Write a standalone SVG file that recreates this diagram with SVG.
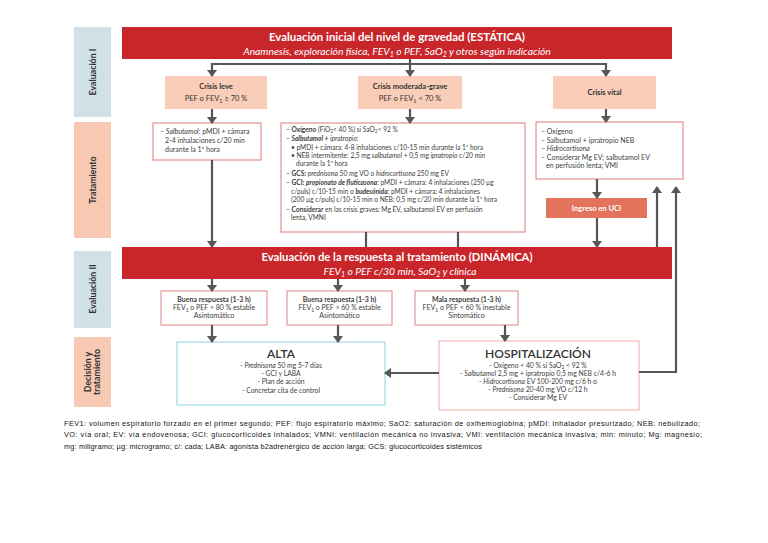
<svg xmlns="http://www.w3.org/2000/svg" width="768" height="543" viewBox="0 0 768 543">
<defs>
<marker id="ah" viewBox="0 0 7 10" refX="6" refY="5" markerWidth="7" markerHeight="10" markerUnits="userSpaceOnUse" orient="auto"><path d="M0,0 L7,5 L0,10 z" fill="#575757"/></marker>
<style>
text{font-family:Lato,"Open Sans","Liberation Sans",sans-serif;fill:#3d3d3d}
.lab rect{stroke:none}
.blue{fill:#d0e1e8}
.salm{fill:#f8c9b2}
.lt{font-size:8.8px;font-weight:bold;fill:#333;text-anchor:middle}
.red{fill:#c9262c}
.ttl{font-size:11.5px;font-weight:bold;fill:#fff;text-anchor:middle}
.sub{font-size:10.3px;font-style:italic;fill:#fff;text-anchor:middle}
.cr{fill:#f9cdb7}
.ct{font-size:7.5px;text-anchor:middle;fill:#333}
.b{font-weight:bold}
.i{font-style:italic}
.bi{font-weight:bold;font-style:italic}
.tb{fill:#fff;stroke:#e07b7b;stroke-width:1}
.t7{font-size:7px}
.t6{font-size:6.6px}
.rb{fill:#fff;stroke:#e08585;stroke-width:1}
.rt{font-size:7px;text-anchor:middle}
.uci{fill:#e3735a}
.alta{fill:#fff;stroke:#8fd0e0;stroke-width:1}
.hosp{fill:#fff;stroke:#f0aaaa;stroke-width:1}
.big{font-size:12px;font-weight:600;text-anchor:middle;fill:#333}
.dt{font-size:6.8px;text-anchor:middle}
.fn{font-family:"Liberation Sans",Arial,sans-serif;font-size:7.3px;fill:#111}
.con{fill:none;stroke:#575757;stroke-width:2.2}
</style>
</defs>
<rect width="768" height="543" fill="#fff"/>

<!-- side labels -->
<g id="lab-eval1" class="lab"><rect class="blue" x="74" y="27" width="37" height="90"/><text class="lt" transform="translate(92.5,72) rotate(-90)" dy="3">Evaluación I</text></g>
<g id="lab-trat" class="lab"><rect class="salm" x="74" y="122" width="37" height="116"/><text class="lt" transform="translate(92.5,180) rotate(-90)" dy="3">Tratamiento</text></g>
<g id="lab-eval2" class="lab"><rect class="blue" x="74" y="251" width="37" height="77"/><text class="lt" transform="translate(92.5,289) rotate(-90)" dy="3">Evaluación II</text></g>
<g id="lab-dec" class="lab"><rect class="salm" x="74" y="337" width="37" height="70"/><text class="lt" transform="translate(92.5,372) rotate(-90)"><tspan x="0" y="-1.5">Decisión y</tspan><tspan x="0" y="7.5">tratamiento</tspan></text></g>

<!-- header 1 -->
<g id="eval-inicial"><rect class="red" x="122" y="27" width="550" height="32"/>
<text class="ttl" x="397" y="41" textLength="256" lengthAdjust="spacingAndGlyphs">Evaluación inicial del nivel de gravedad (ESTÁTICA)</text>
<text class="sub" x="397" y="54.5">Anamnesis, exploración física, FEV<tspan font-size="7" dy="2">1</tspan><tspan dy="-2"> o PEF, SaO</tspan><tspan font-size="7" dy="2">2</tspan><tspan dy="-2"> y otros según indicación</tspan></text></g>

<!-- crisis -->
<g id="crisis-leve"><rect class="cr" x="165" y="76" width="102" height="33"/><text class="ct b" x="216" y="89">Crisis leve</text><text class="ct" x="216" y="101">PEF o FEV<tspan font-size="5.5" dy="1.5">1</tspan><tspan dy="-1.5"> ≥ 70 %</tspan></text></g>
<g id="crisis-mod"><rect class="cr" x="358" y="76" width="104" height="33"/><text class="ct b" x="410" y="89">Crisis moderada-grave</text><text class="ct" x="410" y="101">PEF o FEV<tspan font-size="5.5" dy="1.5">1</tspan><tspan dy="-1.5"> &lt; 70 %</tspan></text></g>
<g id="crisis-vital"><rect class="cr" x="553" y="76" width="103" height="33"/><text class="ct b" x="604.5" y="95">Crisis vital</text></g>

<!-- treatments -->
<g id="trat-leve"><rect class="tb" x="153" y="123" width="108" height="37"/>
<text class="t7" x="160" y="134">– <tspan class="i">Salbutamol</tspan>: pMDI + cámara</text>
<text class="t7" x="165" y="143">2-4 inhalaciones c/20 min</text>
<text class="t7" x="165" y="151.5">durante la 1ª hora</text></g>

<g id="trat-mod"><rect class="tb" x="281" y="123" width="244" height="109"/>
<text class="t6" x="286" y="131.5">– <tspan class="b">Oxígeno</tspan> (FiO<tspan font-size="4.8" dy="1.5">2</tspan><tspan dy="-1.5">&lt; 40 %) si SaO</tspan><tspan font-size="4.8" dy="1.5">2</tspan><tspan dy="-1.5">&lt; 92 %</tspan></text>
<text class="t6" x="286" y="140.5">– <tspan class="bi">Salbutamol +</tspan> <tspan class="i">ipratropio</tspan>:</text>
<text class="t6" x="291" y="149.5">• pMDI + cámara: 4-8 inhalaciones c/10-15 min durante la 1ª hora</text>
<text class="t6" x="291" y="158">• NEB intermitente: 2,5 mg <tspan class="i">salbutamol</tspan> + 0,5 mg <tspan class="i">ipratropio</tspan> c/20 min</text>
<text class="t6" x="296" y="166">durante la 1ª hora</text>
<text class="t6" x="286" y="175.5">– <tspan class="b">GCS:</tspan> <tspan class="i">prednisona</tspan> 50 mg VO o <tspan class="i">hidrocortisona</tspan> 250 mg EV</text>
<text class="t6" x="286" y="185">– <tspan class="b">GCI:</tspan> <tspan class="bi">propionato de fluticasona</tspan>: pMDI + cámara: 4 inhalaciones (250 µg</text>
<text class="t6" x="291" y="193.5">c/puls) c/10-15 min o <tspan class="bi">budesónida</tspan>: pMDI + cámara: 4 inhalaciones</text>
<text class="t6" x="291" y="202">(200 µg c/puls) c/10-15 min o NEB: 0,5 mg c/20 min durante la 1ª hora</text>
<text class="t6" x="286" y="211.5">– <tspan class="b">Considerar</tspan> en las crisis graves: Mg EV, salbutamol EV en perfusión</text>
<text class="t6" x="291" y="220">lenta, VMNI</text></g>

<g id="trat-vital"><rect class="tb" x="536" y="122" width="147" height="57"/>
<text class="t7" x="541" y="134">– Oxígeno</text>
<text class="t7" x="541" y="142.5">– Salbutamol + ipratropio NEB</text>
<text class="t7" x="541" y="151">– <tspan class="i">Hidrocortisona</tspan></text>
<text class="t7" x="541" y="159.5">– Considerar Mg EV; salbutamol EV</text>
<text class="t7" x="546" y="168">en perfusión lenta; VMI</text></g>

<g id="uci"><rect class="uci" x="546" y="198" width="101" height="20"/><text class="ct b" x="596.5" y="210.5" style="fill:#fff">Ingreso en UCI</text></g>

<!-- header 2 -->
<g id="eval-respuesta"><rect class="red" x="122" y="247" width="550" height="32"/>
<text class="ttl" x="397" y="261" textLength="271" lengthAdjust="spacingAndGlyphs">Evaluación de la respuesta al tratamiento (DINÁMICA)</text>
<text class="sub" x="400" y="274.5">FEV<tspan font-size="7" dy="2">1</tspan><tspan dy="-2"> o PEF c/30 min, SaO</tspan><tspan font-size="7" dy="2">2</tspan><tspan dy="-2"> y clínica</tspan></text></g>

<!-- responses -->
<g id="resp-1"><rect class="rb" x="161" y="291" width="106" height="34"/>
<text class="rt b" x="214" y="302">Buena respuesta (1-3 h)</text>
<text class="rt" x="214" y="310">FEV<tspan font-size="5" dy="1.5">1</tspan><tspan dy="-1.5"> o PEF &gt; 80 % estable</tspan></text>
<text class="rt" x="214" y="318">Asintomático</text></g>
<g id="resp-2"><rect class="rb" x="287" y="291" width="105" height="34"/>
<text class="rt b" x="339.5" y="302">Buena respuesta (1-3 h)</text>
<text class="rt" x="339.5" y="310">FEV<tspan font-size="5" dy="1.5">1</tspan><tspan dy="-1.5"> o PEF &gt; 60 % estable</tspan></text>
<text class="rt" x="339.5" y="318">Asintomático</text></g>
<g id="resp-3"><rect class="rb" x="415" y="291" width="103" height="34"/>
<text class="rt b" x="466.5" y="302">Mala respuesta (1-3 h)</text>
<text class="rt" x="466.5" y="310">FEV<tspan font-size="5" dy="1.5">1</tspan><tspan dy="-1.5"> o PEF &lt; 60 % inestable</tspan></text>
<text class="rt" x="466.5" y="318">Sintomático</text></g>

<!-- decisions -->
<g id="alta"><rect class="alta" x="177" y="342" width="208" height="63"/>
<text class="big" x="281" y="357.5">ALTA</text>
<text class="dt" x="281" y="368">- <tspan class="i">Prednisona</tspan> 50 mg 5-7 días</text>
<text class="dt" x="281" y="376">- GCI y LABA</text>
<text class="dt" x="281" y="384">- Plan de acción</text>
<text class="dt" x="281" y="392.5">- Concretar cita de control</text></g>
<g id="hospitalizacion"><rect class="hosp" x="439" y="341" width="200" height="69"/>
<text class="big" x="538" y="357.5">HOSPITALIZACIÓN</text>
<text class="dt" x="538" y="367.5">- Oxígeno &lt; 40 % si SaO<tspan font-size="5" dy="1.5">2</tspan><tspan dy="-1.5"> &lt; 92 %</tspan></text>
<text class="dt" x="538" y="375.5">- <tspan class="i">Salbutamol</tspan> 2,5 mg + ipratropio 0,5 mg NEB c/4-6 h</text>
<text class="dt" x="538" y="383.5">- <tspan class="i">Hidrocortisona</tspan> EV 100-200 mg c/6 h o</text>
<text class="dt" x="538" y="391.5">- <tspan class="i">Prednisona</tspan> 20-40 mg VO c/12 h</text>
<text class="dt" x="538" y="399.5">- Considerar Mg EV</text></g>

<!-- connectors -->
<g id="connectors">
<path class="con" d="M212,64 H606"/>
<path class="con" d="M212,63 V76" marker-end="url(#ah)"/>
<path class="con" d="M410,59 V76" marker-end="url(#ah)"/>
<path class="con" d="M606,63 V76" marker-end="url(#ah)"/>
<path class="con" d="M212,109 V123" marker-end="url(#ah)"/>
<path class="con" d="M410,109 V123" marker-end="url(#ah)"/>
<path class="con" d="M606,109 V122" marker-end="url(#ah)"/>
<path class="con" d="M212,160 V247" marker-end="url(#ah)"/>
<path class="con" d="M366,232 V247"/>
<path class="con" d="M458,232 V247"/>
<path class="con" d="M597,179 V198" marker-end="url(#ah)"/>
<path class="con" d="M597,218 V247" marker-end="url(#ah)"/>
<path class="con" d="M657,247 V187" marker-end="url(#ah)"/>
<path class="con" d="M639,372 H676 V187" marker-end="url(#ah)"/>
<path class="con" d="M212,279 V291" marker-end="url(#ah)"/>
<path class="con" d="M338,279 V291" marker-end="url(#ah)"/>
<path class="con" d="M465,279 V291" marker-end="url(#ah)"/>
<path class="con" d="M212,325 V342" marker-end="url(#ah)"/>
<path class="con" d="M338,325 V342" marker-end="url(#ah)"/>
<path class="con" d="M505,325 V341" marker-end="url(#ah)"/>
<path class="con" d="M439,373 H385" marker-end="url(#ah)"/>
</g>

<!-- footnote -->
<text class="fn" x="64" y="425.5" textLength="636" lengthAdjust="spacing">FEV1: volumen espiratorio forzado en el primer segundo; PEF: flujo espiratorio máximo; SaO2: saturación de oxihemoglobina; pMDI: inhalador presurizado; NEB: nebulizado;</text>
<text class="fn" x="64" y="437" textLength="638" lengthAdjust="spacing">VO: vía oral; EV: vía endovenosa; GCI: glucocorticoides inhalados; VMNI: ventilación mecánica no invasiva; VMI: ventilación mecánica invasiva; min: minuto; Mg: magnesio;</text>
<text class="fn" x="64" y="448.5" textLength="418" lengthAdjust="spacing">mg: miligramo; µg: microgramo; c/: cada; LABA: agonista b2adrenérgico de acción larga; GCS: glucocorticoides sistémicos</text>
</svg>
